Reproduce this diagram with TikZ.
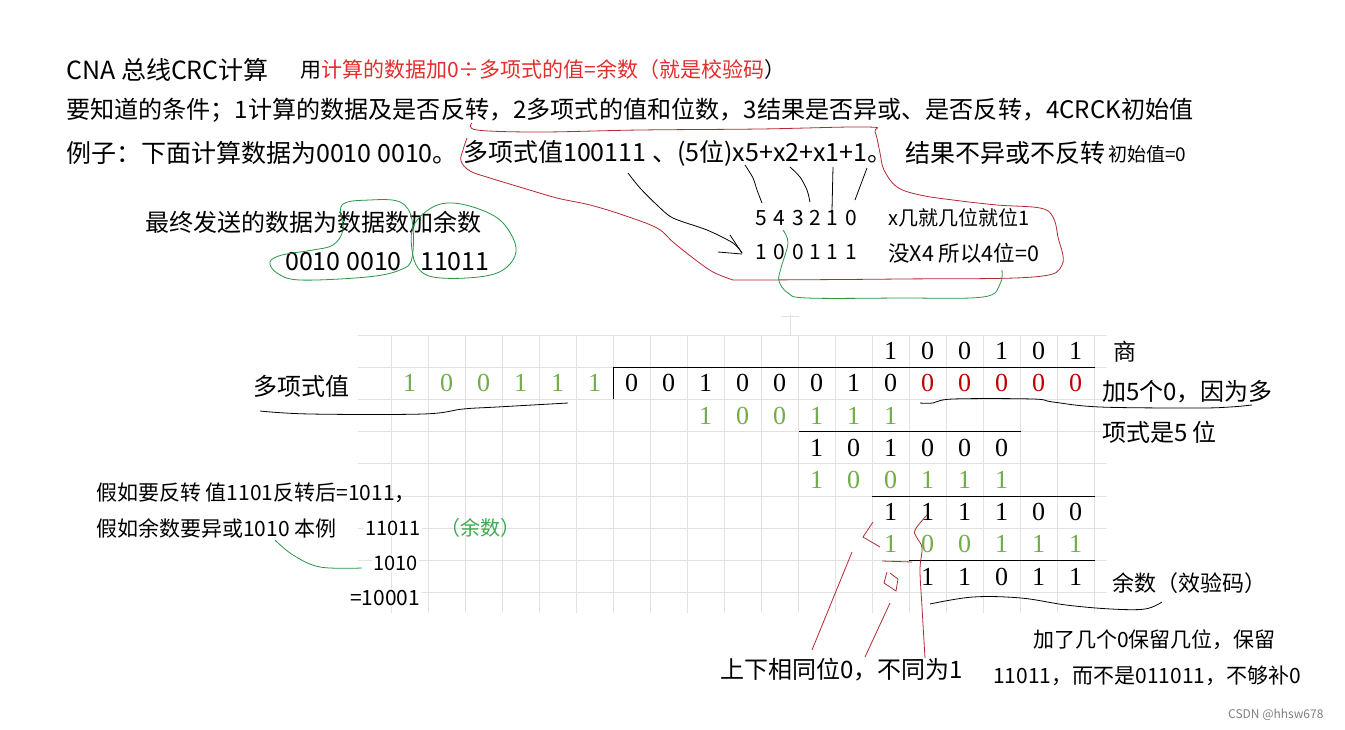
\documentclass[tikz,border=0pt]{standalone}
\usepackage{fontspec}
\newfontfamily\cjk{Noto Sans CJK SC}
\newfontfamily\serifdig{Liberation Serif}
\newcommand\myfs[1]{\fontsize{#1}{#1}\selectfont}
\definecolor{redtxt}{RGB}{228,45,45}
\definecolor{redz}{RGB}{192,0,0}
\definecolor{grn}{RGB}{112,173,71}
\definecolor{grntxt}{RGB}{60,170,80}
\definecolor{loopg}{RGB}{40,150,70}
\definecolor{loopr}{RGB}{180,40,50}
\definecolor{gridc}{RGB}{226,226,226}
\begin{document}
\begin{tikzpicture}[x=1pt,y=-1pt,
  txt/.style={anchor=west,inner sep=0pt,font={\cjk\myfs{25}}},
  txs/.style={anchor=west,inner sep=0pt,font={\cjk\myfs{21}}},
  txm/.style={anchor=west,inner sep=0pt,font={\cjk\myfs{20}}},
  dg/.style={inner sep=0pt,font={\cjk\myfs{21}}},
  gd/.style={inner sep=0pt,font={\serifdig\myfs{26}}},
  gridl/.style={draw=gridc,line width=0.9pt},
  rule/.style={draw=black,line width=1pt},
  hand/.style={draw=black,line width=0.8pt},
  handr/.style={draw=loopr,line width=0.8pt},
  handg/.style={draw=loopg,line width=0.8pt}]
\useasboundingbox[fill=white] (0,0) rectangle (1345,729);

% ---------- grid ----------
\foreach \k in {-6,...,13} \draw[gridl] ({613+37*\k},335) -- ({613+37*\k},613);
\foreach \j in {0,...,8} \draw[gridl] (358,{335+32.2*\j}) -- (1107,{335+32.2*\j});
\draw[gridl] (790,314) -- (790,335);
\draw[gridl] (781,316) -- (799,316);

% ---------- top text ----------
\node[txt] (t1) at (66,70) {CNA 总线CRC计算};
\node[txs] (t1r) at (300,70) {用\textcolor{redtxt}{计算的数据加0÷多项式的值=余数（就是校验码}）};
\node[txt,font={\cjk\myfs{24.1}}] (t2) at (66,110) {要知道的条件；1计算的数据及是否反转，2多项式的值和位数，3结果是否异或、是否反转，4CRCK初始值};
\node[txt] (t3a) at (66,153) {例子：下面计算数据为0010 0010。};
\node[txt] (t3b) at (463,153) {多项式值100111 、(5位)x5+x2+x1+1。};
\node[txt] (t3c) at (905,153) {结果不异或不反转};
\node[txm,font={\cjk\myfs{19}}] (t3d) at (1108,154) {初始值=0};

\node[txt,font={\cjk\myfs{24}}] (fin) at (145,222) {最终发送的数据为数据数加余数};
\node[txt] (fd) at (285,262) {0010 0010};
\node[txt] (fr) at (420,262) {11011};

% bit positions
\foreach \d/\x [count=\i from 0] in {5/761,4/779,3/798,2/815,1/832,0/851}
  \node[dg] (p\i) at (\x,218) {\d};
\foreach \d/\x [count=\i from 0] in {1/761,0/779,0/798,1/815,1/832,1/851}
  \node[dg] (b\i) at (\x,252) {\d};
\node[txm] (n1) at (888,218) {x几就几位就位1};
\node[txm,font={\cjk\myfs{21.5}}] (n2) at (888,253) {没X4 所以4位=0};

% ---------- long division ----------
\node[txt,font={\cjk\myfs{24}}] (pv) at (253,386) {多项式值};
\foreach \d [count=\i from 0] in {1,0,0,1,1,1}
  \node[gd,text=grn] (pl\i) at ({613+37*(\i-6)+18.5},{335+32.2*1.5}) {\d};
\foreach \d [count=\i from 0] in {1,0,0,1,0,1}
  \node[gd] (qa\i) at ({613+37*(7+\i)+18.5},{335+32.2*0.5}) {\d};
\foreach \d [count=\i from 0] in {0,0,1,0,0,0,1,0}
  \node[gd] (dv\i) at ({613+37*\i+18.5},{335+32.2*1.5}) {\d};
\foreach \i in {8,...,12}
  \node[gd,text=redz] (dv\i) at ({613+37*\i+18.5},{335+32.2*1.5}) {0};
\foreach \d [count=\i from 0] in {1,0,0,1,1,1}
  \node[gd,text=grn] (ra\i) at ({613+37*(2+\i)+18.5},{335+32.2*2.5}) {\d};
\foreach \d [count=\i from 0] in {1,0,1,0,0,0}
  \node[gd] (rb\i) at ({613+37*(5+\i)+18.5},{335+32.2*3.5}) {\d};
\foreach \d [count=\i from 0] in {1,0,0,1,1,1}
  \node[gd,text=grn] (rc\i) at ({613+37*(5+\i)+18.5},{335+32.2*4.5}) {\d};
\foreach \d [count=\i from 0] in {1,1,1,1,0,0}
  \node[gd] (rd\i) at ({613+37*(7+\i)+18.5},{335+32.2*5.5}) {\d};
\foreach \d [count=\i from 0] in {1,0,0,1,1,1}
  \node[gd,text=grn] (re\i) at ({613+37*(7+\i)+18.5},{335+32.2*6.5}) {\d};
\foreach \d [count=\i from 0] in {1,1,0,1,1}
  \node[gd] (rf\i) at ({613+37*(8+\i)+18.5},{335+32.2*7.5}) {\d};

\draw[rule] (613,399.4) -- (613,367.2) -- (1095,367.2);
\draw[rule] (799,431.6) -- (1021,431.6);
\draw[rule] (872,496) -- (1095,496);
\draw[rule] (909,560.4) -- (1095,560.4);

\node[txt,font={\cjk\myfs{23}}] (sh) at (1113,352) {商};
\node[txt,font={\cjk\myfs{24}}] (a5a) at (1102,392) {加5个0，因为多};
\node[txt,font={\cjk\myfs{24}}] (a5b) at (1102,432) {项式是5 位};
\node[txt,font={\cjk\myfs{22}}] (ys) at (1112,583) {余数（效验码）};

% ---------- left notes ----------
\node[txm,font={\cjk\myfs{21}}] (f1) at (96,493) {假如要反转 值1101反转后=1011，};
\node[txm,font={\cjk\myfs{21}}] (f2) at (96,528) {假如余数要异或1010 本例};
\node[txm,fill=white,inner sep=1pt] (f3) at (364,528) {11011};
\node[txm,text=grntxt] (f4) at (440,528) {（余数）};
\node[txm,fill=white,inner sep=1pt] (f5) at (372,563) {1010};
\node[txm,fill=white,inner sep=1pt,font={\cjk\myfs{21}}] (f6) at (349,598) {=10001};

% ---------- bottom notes ----------
\node[txt,font={\cjk\myfs{24}}] (sx) at (720,670) {上下相同位0，不同为1};
\node[txs] (k1) at (1033,640) {加了几个0保留几位，保留};
\node[txs] (k2) at (993,676) {11011，而不是011011，不够补0};
\node[anchor=west,inner sep=0pt,font={\cjk\myfs{12}},text=gray] (wm) at (1228,715) {CSDN @hhsw678};

% ---------- hand strokes ----------
% red big loop
\draw[handr] plot[smooth,tension=0.6] coordinates {(472,123) (477,130) (540,132) (640,130) (760,129) (867,127) (875,132) (880,153) (884,170) (897,187) (920,195) (953,200) (997,205) (1040,208) (1053,217) (1058,237) (1062,265) (1033,277) (900,279) (760,280) (733,280)};
\draw[handr] plot[smooth,tension=0.6] coordinates {(733,280) (713,272) (693,258) (673,242) (657,228) (623,215) (590,205) (557,198) (523,188) (490,178) (470,171) (461,161) (463,150) (467,138)};
% green U
\draw[handg] plot[smooth,tension=0.6] coordinates {(783,230) (788,243) (781,268) (779,281) (788,293) (807,298) (900,298) (983,297) (1000,284) (1002,270)};
% green loops
\draw[handg] plot[smooth cycle,tension=0.6] coordinates {(342,205) (370,200) (400,202) (412,220) (412,258) (400,270) (367,277) (300,280) (277,273) (270,262) (282,255) (313,250) (333,245) (343,230)};
\draw[handg] plot[smooth cycle,tension=0.6] coordinates {(412,250) (413,227) (428,210) (447,203) (473,207) (500,220) (515,243) (513,260) (497,273) (467,278) (433,277) (418,268)};
\draw[handg] plot[smooth,tension=0.6] coordinates {(275,540) (293,555) (320,567) (362,568)};
% black lines to bit positions
\draw[hand] plot[smooth] coordinates {(745,165) (753,178) (757,190) (762,203)};
\draw[hand] plot[smooth] coordinates {(790,167) (800,177) (807,190) (810,202)};
\draw[hand] (833,167) -- (p4.north);
\draw[hand] (867,168) -- (855,200);
% arrow
\draw[hand] plot[smooth] coordinates {(628,173) (640,188) (657,205) (673,218) (707,230) (733,243) (742,253)};
\draw[hand] (730,235) -- (742,253) (718,252) -- (742,254);
% underlines
\draw[hand] plot[smooth,tension=0.6] coordinates {(260,411) (310,414) (423,414) (463,409) (497,407) (568,403)};
\draw[hand] plot[smooth,tension=0.6] coordinates {(920,403) (933,403) (953,399) (1033,399) (1053,402) (1100,407) (1197,408) (1230,407) (1252,405)};
\draw[hand] plot[smooth,tension=0.6] coordinates {(930,604) (973,597) (1021,598) (1066,605) (1111,609) (1145,609) (1162,602)};
% red hand strokes
\draw[handr] (852,552) -- (812,650);
\draw[handr] (873,522) -- (863,537) -- (880,547);
\draw[handr] (882,561) -- (912,562);
\draw[handr] (887,572) -- (884,583) -- (896,591) -- (898,579) -- (890,573);
\draw[handr] (890,603) -- (865,657);
\draw[handr] plot[smooth,tension=0.6] coordinates {(927,515) (915,530) (917,538) (922,548) (920,570) (922,607) (925,658)};
\end{tikzpicture}
\end{document}
